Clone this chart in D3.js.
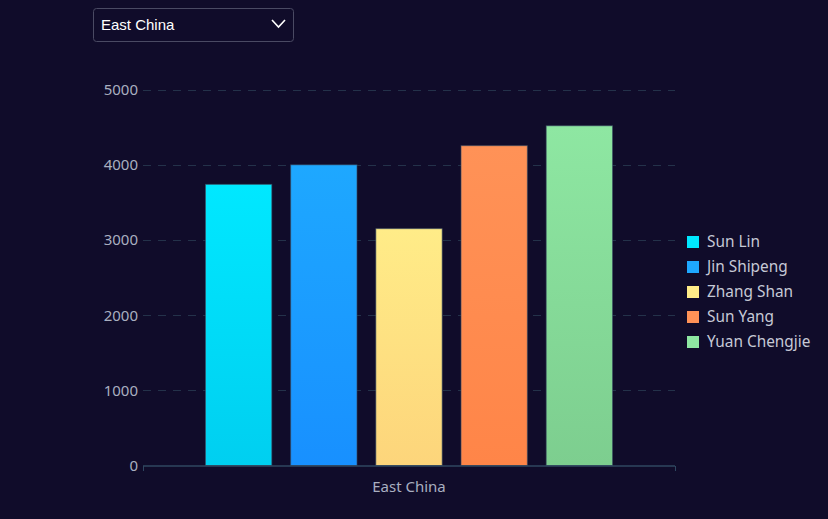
<!DOCTYPE html>
<html><head><meta charset="utf-8">
<script src="https://cdn.jsdelivr.net/npm/d3@7"></script>
<style>
html,body{margin:0;padding:0;background:#100c2a;}
svg{display:block;}
</style></head>
<body>
<svg id="chart" width="828" height="519"></svg>
<script>
const categories = ["East China"];
const seriesNames = ["Sun Lin", "Jin Shipeng", "Zhang Shan", "Sun Yang", "Yuan Chengjie"];
const seriesValues = [3750, 4010, 3160, 4265, 4530];
const yTicks = [0, 1000, 2000, 3000, 4000, 5000];
const colorsTop = ["#00e8ff", "#1ea8ff", "#ffec88", "#ff9257", "#8ee7a2"];
const colorsBot = ["#00cff0", "#1890ff", "#fdd57b", "#ff8548", "#7dce8f"];

(function(){
const svg = d3.select("#chart");
svg.append("rect").attr("width",828).attr("height",519).attr("fill","#100c2a");
const font = "'Noto Sans', 'Microsoft YaHei', sans-serif";
const pLeft = 143, pRight = 675, pTop = 90, pBottom = 465.5;

const x = d3.scaleBand().domain(categories).range([pLeft, pRight]);
const y = d3.scaleLinear().domain([0, 5000]).range([pBottom, pTop]);
const inner = d3.scaleBand().domain(seriesNames).range([205, 613]).paddingInner(0.21);

const defs = svg.append("defs");
seriesNames.forEach((n,i)=>{
  const g = defs.append("linearGradient").attr("id","g"+i).attr("x1",0).attr("y1",0).attr("x2",0).attr("y2",1);
  g.append("stop").attr("offset","0%").attr("stop-color",colorsTop[i]);
  g.append("stop").attr("offset","100%").attr("stop-color",colorsBot[i]);
});

// grid
svg.append("g").selectAll("line").data(yTicks.filter(d=>d>0)).join("line")
  .attr("x1",pLeft).attr("x2",pRight).attr("y1",d=>Math.round(y(d))+0.5).attr("y2",d=>Math.round(y(d))+0.5)
  .attr("stroke","#24324a").attr("stroke-width",1).attr("stroke-dasharray","8,7");

// y labels
svg.append("g").selectAll("text").data(yTicks).join("text")
  .attr("x",138).attr("y",d=>y(d)).attr("dy","0.35em").attr("text-anchor","end")
  .attr("fill","#a9afc0").attr("font-size",15).attr("font-family",font).text(d=>d);

// bars
const cat = categories[0];
svg.append("g").selectAll("rect").data(seriesValues).join("rect")
  .attr("x",(d,i)=>inner(seriesNames[i])+0.5)
  .attr("y",d=>y(d)+0.5)
  .attr("width",inner.bandwidth()-1)
  .attr("height",d=>pBottom - y(d) - 0.5)
  .attr("fill",(d,i)=>`url(#g${i})`)
  .attr("stroke","rgba(60,80,100,0.6)").attr("stroke-width",1);

// x axis
const xa = svg.append("g");
xa.append("line").attr("x1",pLeft).attr("x2",pRight).attr("y1",466).attr("y2",466).attr("stroke","#2f4760").attr("stroke-width",1.5);
[pLeft, pRight].forEach(px=>xa.append("line").attr("x1",px+0.5).attr("x2",px+0.5).attr("y1",466).attr("y2",471).attr("stroke","#2f4760"));
xa.append("text").attr("x",x(cat)+x.bandwidth()/2).attr("y",492).attr("text-anchor","middle")
  .attr("fill","#a9afc0").attr("font-size",15).attr("font-family",font).text(cat);

// legend
const lg = svg.append("g");
seriesNames.forEach((n,i)=>{
  const cy = 242 + i*25;
  lg.append("rect").attr("x",687).attr("y",cy-6).attr("width",12).attr("height",12).attr("fill",colorsTop[i]);
  lg.append("text").attr("x",707).attr("y",cy).attr("dy","0.35em").attr("fill","#c6c9d6")
    .attr("font-size",15.4).attr("font-family",font).text(n);
});

// dropdown
const dd = svg.append("g");
dd.append("rect").attr("x",93.5).attr("y",8.5).attr("width",200).attr("height",33).attr("rx",3)
  .attr("fill","#100c2a").attr("stroke","#4a4a63");
dd.append("text").attr("x",101).attr("y",25).attr("dy","0.35em").attr("fill","#ffffff")
  .attr("font-size",15).attr("font-family","Arial, 'Liberation Sans', sans-serif").text(categories[0]);
dd.append("path").attr("d","M272,20 L278.5,27 L285,20").attr("fill","none").attr("stroke","#ffffff").attr("stroke-width",1.6);
})();
</script>
</body></html>
